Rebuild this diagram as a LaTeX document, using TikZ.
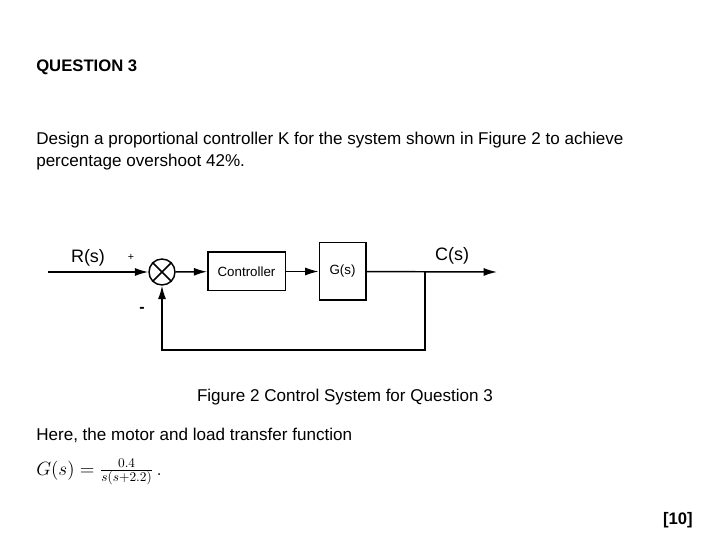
\documentclass[tikz,border=0pt]{standalone}
\usepackage{fontspec}
\setmainfont{Liberation Sans}
\usepackage{amsmath}
\usetikzlibrary{arrows.meta}
\begin{document}
\begin{tikzpicture}[x=0.75pt,y=-0.75pt,
  txt/.style={anchor=west,inner sep=0pt,font=\fontsize{12.8}{15}\selectfont},
  blk/.style={draw,line width=1pt,minimum height=#1,inner sep=0pt,font=\fontsize{10}{11}\selectfont},
  ln/.style={line width=1.1pt},
  arr/.style={ln,-{Latex[length=10pt,width=6pt]}}]
\useasboundingbox (0,0) rectangle (720,555);
\node[txt,font=\bfseries\fontsize{12.5}{15}\selectfont] (q) at (36,67) {QUESTION 3};
\node[txt] (p1) at (36,140) {Design a proportional controller K for the system shown in Figure 2 to achieve};
\node[txt] (p2) at (36,162) {percentage overshoot 42\%.};
% diagram
\coordinate (in) at (48,272);
\node[draw,circle,line width=1.1pt,minimum size=26pt*0.75,inner sep=0pt] (sum) at (162,272) {};
\draw[line width=1.1pt] (sum.north west) -- (sum.south east) (sum.north east) -- (sum.south west);
\node[blk=29pt,minimum width=58pt] (ctrl) at (246.5,271.5) {Controller};
\node[blk=43pt,minimum width=35pt] (g) at (342.5,271.5) {G(s)};
\coordinate (out) at (497,272);
\coordinate (br) at (425,272);
\coordinate (b1) at (425,350);
\coordinate (b2) at (162,350);
\draw[arr] (in) -- (sum);
\draw[arr] (sum) -- (ctrl);
\draw[arr] (ctrl) -- (g);
\draw[arr] (g) -- (out);
\draw[arr] (br) -- (b1) -- (b2) -- (sum);
\node[font=\fontsize{13.5}{15}\selectfont] (r) at (88,258) {R(s)};
\node[font=\fontsize{13.5}{15}\selectfont] (c) at (452,256) {C(s)};
\node[font=\fontsize{8}{9}\selectfont] (plus) at (131,257) {+};
\node[font=\bfseries\fontsize{12}{12}\selectfont] (minus) at (142,310) {-};
\node[txt,anchor=center] (cap) at (345,397) {Figure 2 Control System for Question 3};
\node[txt] (h) at (36,435) {Here, the motor and load transfer function};
\node[txt,font=\fontsize{14}{16}\selectfont] (f) at (36,472) {$G(s)=\frac{0.4}{s(s+2.2)}\,.$};
\node[txt,anchor=east,font=\bfseries\fontsize{12.5}{15}\selectfont] (m) at (693,520) {[10]};
\end{tikzpicture}
\end{document}
